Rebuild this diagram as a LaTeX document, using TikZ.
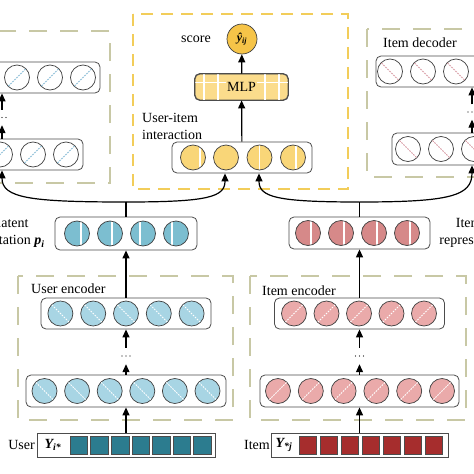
\documentclass[tikz,border=0pt]{standalone}
\usepackage{fontspec}
\setmainfont{Liberation Serif}
\usetikzlibrary{arrows.meta}
\definecolor{olivec}{RGB}{200,200,165}
\definecolor{goldc}{RGB}{242,205,90}
\definecolor{uencc}{RGB}{168,213,228}
\definecolor{ulatc}{RGB}{124,190,208}
\definecolor{usqc}{RGB}{44,124,143}
\definecolor{iencc}{RGB}{234,170,170}
\definecolor{ilatc}{RGB}{214,137,137}
\definecolor{isqc}{RGB}{166,45,45}
\definecolor{interc}{RGB}{249,214,120}
\definecolor{scorec}{RGB}{246,196,72}
\definecolor{mlpc}{RGB}{251,220,140}
\definecolor{udecl}{RGB}{130,185,212}
\definecolor{idecl}{RGB}{215,150,160}
\newcommand\cellbs[4]{%
  \draw[cell, fill=#3] (#1,#2) circle[radius=12.5];
  \draw[diagline, draw=#4] (#1,#2) ++(-8.5,-8.5) -- ++(17,17);}
\newcommand\cellfs[4]{%
  \draw[cell, fill=#3] (#1,#2) circle[radius=12.5];
  \draw[diagline, draw=#4] (#1,#2) ++(-8.5,8.5) -- ++(17,-17);}
\newcommand\cellvl[4]{%
  \fill[#3] (#1,#2) circle[radius=12.5];
  \begin{scope}\clip (#1,#2) circle[radius=12.5];
  \draw[white, line width=1.8pt] (#1,#2) ++(#4,-13) -- ++(0,26);\end{scope}
  \draw[cell] (#1,#2) circle[radius=12.5];}
\begin{document}
\begin{tikzpicture}[x=1pt,y=-1pt,
  cell/.style={draw=black!75, line width=0.7pt},
  diagline/.style={line width=0.9pt, dash pattern=on 1.6pt off 1.2pt},
  layer/.style={draw=black!70, line width=0.8pt, rounded corners=5pt, inner sep=0pt, fill=white},
  inbox/.style={draw=black!70, line width=0.8pt, inner sep=0pt, fill=white},
  sq/.style={draw=black!70, line width=0.6pt},
  arr/.style={line width=1.2pt, -{Triangle[length=8pt,width=7pt]}},
  link/.style={line width=1.2pt},
  olivedash/.style={draw=olivec, line width=1.6pt, dash pattern=on 18pt off 13pt},
  golddash/.style={draw=goldc, line width=1.6pt, dash pattern=on 12pt off 8pt},
  lbl/.style={font=\fontsize{14}{17}\selectfont, inner sep=0pt},
  dotsn/.style={minimum width=6pt, minimum height=16pt, inner sep=0pt}]
\useasboundingbox (0,0) rectangle (474,474);
\clip (0,0) rectangle (474,474);
\fill[white] (0,0) rectangle (474,474);

% dashed frames
\draw[golddash] (133,14) rectangle (348,189);
\draw[olivedash] (-50,31) rectangle (110,183);
\draw[olivedash] (367,29) rectangle (530,177);
\draw[olivedash] (18,276) rectangle (233,420);
\draw[olivedash] (250,276) rectangle (466,420);

% ---------- user side ----------
\node[inbox, minimum width=178pt, minimum height=24pt] (uin) at (126,445) {};
\foreach \k in {0,...,6} {\draw[sq, fill=usqc] ({70+20.6*\k},436) rectangle ++(17.6,18);}
\node[lbl] (uy) at (53,445) {\bfseries\itshape Y\textsubscript{i*}};
\node[lbl, anchor=east] (ulbl) at (35,445) {User};

\node[layer, minimum width=200pt, minimum height=32pt] (uenc1) at (126,391) {};
\foreach \k in {0,...,5} {\cellbs{{126+32.6*(\k-2.5)}}{391}{uencc}{white}}
\node[layer, minimum width=170pt, minimum height=31pt] (uenc2) at (126,313.5) {};
\foreach \k in {0,...,4} {\cellbs{{126+32.8*(\k-2)}}{313.5}{uencc}{white}}
\node[lbl, anchor=west] (uenclbl) at (31,289) {User encoder};
\node[dotsn] (udots) at (126,356) {};
\fill (udots.center) ++(-4,0) circle[radius=0.7] ++(4,0) circle[radius=0.7] ++(4,0) circle[radius=0.7];

\node[layer, minimum width=142pt, minimum height=33pt] (ulat) at (126,233.5) {};
\cellvl{77}{233.5}{ulatc}{4}
\cellvl{110}{233.5}{ulatc}{2}
\cellvl{143}{233.5}{ulatc}{-3}
\cellvl{176}{233.5}{ulatc}{-4}
\node[lbl, align=center] (ulatlbl) at (-2,233) {User latent\\representation {\bfseries\itshape p}\textsubscript{\bfseries\itshape i}};

\draw[arr] (uin) -- (uenc1);
\draw[arr] (uenc1) -- (udots);
\draw[arr] (udots) -- (uenc2);
\draw[arr] (uenc2) -- (ulat);

% ---------- item side ----------
\node[inbox, minimum width=177pt, minimum height=24pt] (iin) at (359.5,445) {};
\foreach \k in {0,...,6} {\draw[sq, fill=isqc] ({299+21*\k},436) rectangle ++(17.6,18);}
\node[lbl] (iy) at (284,445) {\bfseries\itshape Y\textsubscript{*j}};
\node[lbl, anchor=east] (ilbl) at (270,445) {Item};

\node[layer, minimum width=199pt, minimum height=32pt] (ienc1) at (359.5,391) {};
\foreach \k in {0,...,5} {\cellfs{{360+32.8*(\k-2.5)}}{391}{iencc}{white}}
\node[layer, minimum width=170pt, minimum height=31pt] (ienc2) at (359.5,313.5) {};
\foreach \k in {0,...,4} {\cellfs{{359+32.5*(\k-2)}}{313.5}{iencc}{white}}
\node[lbl, anchor=west] (ienclbl) at (262,291) {Item encoder};
\node[dotsn] (idots) at (359.5,356) {};
\fill (idots.center) ++(-4,0) circle[radius=0.7] ++(4,0) circle[radius=0.7] ++(4,0) circle[radius=0.7];

\node[layer, minimum width=141pt, minimum height=32pt] (ilat) at (359.5,233) {};
\cellvl{308}{233}{ilatc}{3}
\cellvl{341}{233}{ilatc}{3}
\cellvl{374}{233}{ilatc}{3}
\cellvl{407}{233}{ilatc}{3}
\node[lbl, align=center] (ilatlbl) at (486,233) {Item latent\\representation {\bfseries\itshape q}\textsubscript{\bfseries\itshape j}};

\draw[arr] (iin) -- (ienc1);
\draw[arr] (ienc1) -- (idots);
\draw[arr] (idots) -- (ienc2);
\draw[arr] (ienc2) -- (ilat);

% ---------- user decoder (left) ----------
\node[layer, minimum width=183pt, minimum height=31pt] (ldecA) at (-8.5,154.5) {};
\foreach \x in {-33,0,33,66} {\cellfs{\x}{154.5}{white}{udecl}}
\node[layer, minimum width=200pt, minimum height=31pt] (ldecB) at (0,77.5) {};
\foreach \x in {-16,17,50,83} {\cellfs{\x}{77.5}{white}{udecl}}
\node[dotsn, minimum height=15pt] (ldots) at (2,117.5) {};
\fill (ldots.center) ++(-4,0) circle[radius=0.7] ++(4,0) circle[radius=0.7] ++(4,0) circle[radius=0.7];
\draw[arr] (ldecA.north -| ldots) -- (ldots);
\draw[arr] (ldots) -- (ldecB.south -| ldots);

% ---------- item decoder (right) ----------
\node[layer, minimum width=208pt, minimum height=32pt] (rdecA) at (496,149) {};
\foreach \x in {408,441,474} {\cellbs{\x}{149}{white}{idecl}}
\node[layer, minimum width=224pt, minimum height=31pt] (rdecB) at (488,71.5) {};
\foreach \x in {390,423,456,489} {\cellbs{\x}{71.5}{white}{idecl}}
\node[lbl, anchor=west] (rdeclbl) at (383,43) {Item decoder};
\node[dotsn, minimum height=15pt] (rdots) at (472,112) {};
\fill (rdots.center) ++(-4,0) circle[radius=0.7] ++(4,0) circle[radius=0.7] ++(4,0) circle[radius=0.7];
\draw[arr] (rdecA.north -| rdots) -- (rdots);
\draw[arr] (rdots) -- (rdecB.south -| rdots);

% ---------- interaction / MLP / score ----------
\node[layer, minimum width=140pt, minimum height=31pt] (inter) at (242,157.5) {};
\cellvl{193}{157.5}{interc}{7}
\cellvl{226}{157.5}{interc}{14}
\cellvl{259.5}{157.5}{interc}{0}
\cellvl{293}{157.5}{interc}{3}
\node[lbl, anchor=west, align=left] (uilbl) at (142,126.5) {User-item\\interaction};

\node[draw=black!70, line width=0.8pt, rounded corners=5pt, fill=mlpc, minimum width=93pt, minimum height=26pt, inner sep=0pt] (mlp) at (241.5,87) {};
\begin{scope}
\clip[rounded corners=5pt] (mlp.south west) rectangle (mlp.north east);
\draw[white, line width=1.3pt] (204,74) -- (204,100) (218,74) -- (218,100) (265,74) -- (265,100) (279,74) -- (279,100) (195,82.7) -- (288,82.7);
\end{scope}
\draw[draw=black!70, line width=0.8pt, rounded corners=5pt] (mlp.south west) rectangle (mlp.north east);
\node[lbl, fill=mlpc, inner sep=1.5pt] (mlptxt) at (mlp.center) {MLP};

\node[circle, draw=black!75, fill=scorec, minimum size=30pt, inner sep=0pt, line width=0.7pt] (yhat) at (242,39) {\fontsize{12}{12}\selectfont\bfseries\itshape ŷ\textsubscript{ij}};
\node[lbl] (scorelbl) at (196,39) {score};

\draw[arr] (inter) -- (mlp);
\draw[arr] (mlp) -- (yhat);

% ---------- latent to interaction/decoders ----------
\coordinate (ub) at (126,202);
\coordinate (uix) at (225,0);
\draw[link] (ulat) -- (ub);
\draw[arr] (ub) .. controls (30,202) and (2,198) .. (ldecA.south -| ldots);
\draw[arr] (ub) .. controls (208,202) and (225,197) .. (inter.south -| uix);

\coordinate (ib) at (359.5,202);
\coordinate (iix) at (259,0);
\draw[link] (ilat) -- (ib);
\draw[arr] (ib) .. controls (276,202) and (259,197) .. (inter.south -| iix);
\draw[arr] (ib) .. controls (450,202) and (472,196) .. (rdecA.south -| rdots);
\end{tikzpicture}
\end{document}
